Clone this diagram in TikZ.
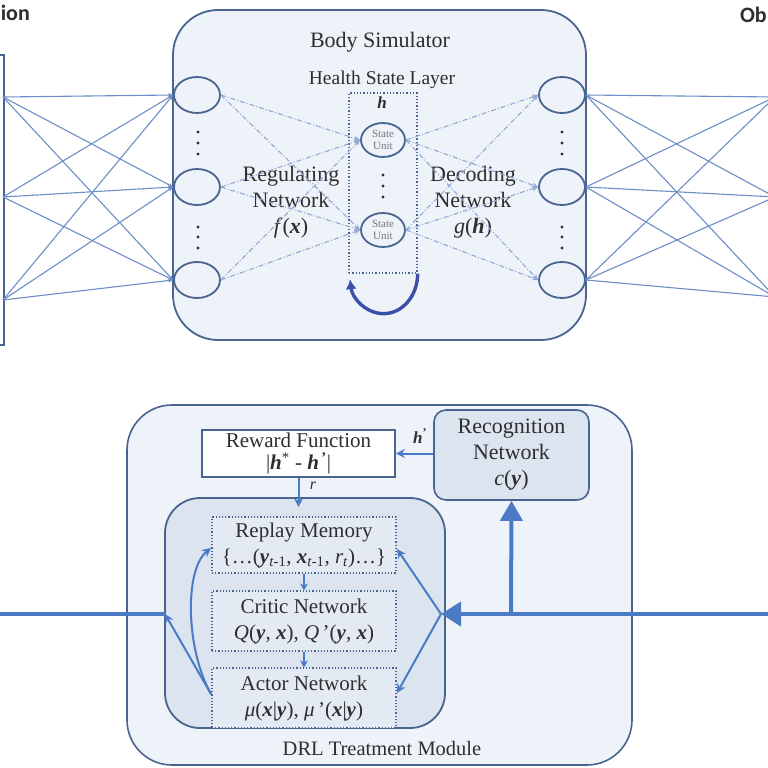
\documentclass[tikz,border=0pt]{standalone}
\usepackage{fontspec}
\setmainfont{Liberation Serif}
\newfontfamily\labelfont{Carlito}
\usetikzlibrary{shapes.geometric,arrows.meta}
\definecolor{frame}{HTML}{4A6490}
\definecolor{arrowblue}{HTML}{4A7BC4}
\definecolor{thinblue}{HTML}{6D8EC6}
\definecolor{dashblue}{HTML}{93ABD4}
\definecolor{bgfill}{HTML}{EEF2F9}
\definecolor{innerfill}{HTML}{DCE4EF}
\definecolor{dotfill}{HTML}{E4EAF3}
\definecolor{txt}{HTML}{2E2E2E}
\definecolor{lighttxt}{HTML}{777777}
\newcommand{\bv}[1]{\textbf{\textit{#1}}}
\begin{document}
\begin{tikzpicture}[x=1pt,y=-1pt,
  every node/.style={text=txt},
  bigtext/.style={font=\fontsize{22}{26}\selectfont, align=center},
  neuron/.style={ellipse, draw=frame, line width=1.8pt, fill=bgfill, minimum width=46pt, minimum height=36pt, inner sep=0pt},
  stateunit/.style={ellipse, draw=frame, line width=1.8pt, fill=bgfill, minimum width=44pt, minimum height=34pt, inner sep=0pt, font=\fontsize{11}{12}\selectfont, align=center, text=lighttxt},
  solidlink/.style={draw=thinblue, line width=1.1pt, -{Stealth[length=5pt,width=4pt]}},
  plainlink/.style={draw=thinblue, line width=1.1pt},
  dashlink/.style={draw=dashblue, line width=1.1pt, dash pattern=on 5pt off 2pt on 1pt off 2pt, -{Stealth[length=6pt,width=5pt]}},
  roundbox/.style={draw=frame, line width=1.8pt, rounded corners=#1, inner sep=0pt},
  dotbox/.style={draw=frame, line width=1.2pt, dotted, fill=dotfill, inner sep=0pt, font=\fontsize{21}{26}\selectfont, align=center},
  thinarrow/.style={draw=arrowblue, line width=2pt, -{Stealth[length=9pt,width=9pt]}},
  thickline/.style={draw=arrowblue, line width=4pt},
]
\useasboundingbox (0,0) rectangle (768,768);
\fill[white] (0,0) rectangle (768,768);

% ---------- top part ----------
\node[font=\labelfont\bfseries\fontsize{22}{22}\selectfont, anchor=east, inner sep=0pt] (actlabel) at (30,13) {ion};
\node[font=\labelfont\bfseries\fontsize{22}{22}\selectfont, anchor=east, inner sep=0pt] (obslabel) at (767,15) {Ob};

\node[draw=frame, line width=1.6pt, minimum width=40pt, minimum height=290pt, inner sep=0pt] (lbox) at (-16,200) {};
\coordinate (l1) at (3,97);
\coordinate (l2) at (3,197);
\coordinate (l3) at (3,300);
\coordinate (r1) at (775,97);
\coordinate (r2) at (775,197);
\coordinate (r3) at (775,297);

\node[roundbox=45pt, fill=bgfill, minimum width=413pt, minimum height=330pt] (body) at (379.5,175) {};
\node[bigtext] (bodytitle) at (380,42) {Body Simulator};
\node[font=\fontsize{19.5}{20}\selectfont] (hsl) at (382,80) {Health State Layer};

\node[neuron] (a1) at (197,95) {};
\node[neuron] (a2) at (197,187) {};
\node[neuron] (a3) at (197,280) {};
\node[neuron] (b1) at (562,95) {};
\node[neuron] (b2) at (562,187) {};
\node[neuron] (b3) at (562,280) {};

\node[draw=frame, line width=1.3pt, dotted, minimum width=68pt, minimum height=180pt, inner sep=0pt] (hlayer) at (383,183) {};
\node[font=\fontsize{17}{17}\selectfont] (hlab) at (382,103) {\bv{h}};
\node[stateunit] (s1) at (383,140) {State\\Unit};
\node[stateunit] (s2) at (383,230) {State\\Unit};

\draw[draw=frame!80!blue, line width=3.4pt, -{Latex[length=10pt,width=11pt]}] (hlayer.south east) arc[start angle=0, end angle=172, x radius=34, y radius=40];

% vertical dots
\foreach \yy in {132,143,154,227,237,248}{
  \fill[txt] (198,\yy) circle (1.7pt);
  \fill[txt] (562,\yy) circle (1.7pt);
}
\foreach \yy in {175,186,197}{ \fill[txt] (383,\yy) circle (1.7pt); }

\node[bigtext] (regnet) at (291,202) {Regulating\\Network\\\textit{f}(\bv{x})};
\node[bigtext] (decnet) at (473,202) {Decoding\\Network\\\textit{g}(\bv{h})};

% solid links left
\foreach \l in {l1,l2,l3}{
  \foreach \a in {a1,a2,a3}{
    \draw[solidlink] (\l) -- (\a.west);
  }
}
% solid links right
\foreach \b in {b1,b2,b3}{
  \foreach \r in {r1,r2,r3}{
    \draw[plainlink] (\b.east) -- (\r);
  }
}
% dashed links
\foreach \a in {a1,a2,a3}{
  \foreach \s in {s1,s2}{
    \draw[dashlink] (\a.east) -- (\s.west);
  }
}
\foreach \s in {s1,s2}{
  \foreach \b in {b1,b2,b3}{
    \draw[dashlink] (\s.east) -- (\b.west);
  }
}

% ---------- bottom part ----------
\node[roundbox=45pt, line width=1.6pt, fill=bgfill, minimum width=505pt, minimum height=360pt] (drl) at (379.5,585) {};
\node[font=\fontsize{20.5}{20}\selectfont] (drltitle) at (382,748) {DRL Treatment Module};

\node[draw=frame, line width=1.8pt, fill=white, minimum width=193pt, minimum height=47pt, inner sep=0pt, font=\fontsize{21}{22.5}\selectfont, align=center] (reward) at (298.5,453.5) {Reward Function\\|\bv{h}\textsuperscript{*} - \bv{h}\textsuperscript{\,\textbf{'}}|};
\node[roundbox=12pt, line width=1.6pt, fill=innerfill, minimum width=155pt, minimum height=90pt, bigtext] (recog) at (511.5,455) {Recognition\\Network\\\textit{c}(\bv{y})};

\node[roundbox=35pt, fill=innerfill, minimum width=280pt, minimum height=230pt] (inner) at (305,613) {};
\node[dotbox, minimum width=184pt, minimum height=56pt] (replay) at (304,545) {Replay Memory\\\{\ldots(\bv{y}\textsubscript{\textit{t}-1}, \bv{x}\textsubscript{\textit{t}-1}, \textit{r}\textsubscript{\textit{t}})\ldots\}};
\node[dotbox, minimum width=184pt, minimum height=60pt] (critic) at (304,621) {Critic Network\\\textit{Q}(\bv{y}, \bv{x}), \textit{Q}\,'(\bv{y}, \bv{x})};
\node[dotbox, minimum width=184pt, minimum height=60pt] (actor) at (304,698) {Actor Network\\\textit{μ}(\bv{x}|\bv{y}), \textit{μ}\,'(\bv{x}|\bv{y})};

% arrows
\draw[thinarrow] (recog.west |- reward.east) -- (reward.east);
\node[font=\fontsize{17}{17}\selectfont] (hprime) at (420,436) {\bv{h}\textsuperscript{\textbf{'}}};
\coordinate (rin) at (298.5,507);
\draw[thinarrow] (reward.south) -- (rin);
\node[font=\fontsize{16}{16}\selectfont] (rlab) at (313,486) {\textit{r}};

\draw[draw=arrowblue, line width=1.6pt, -{Stealth[length=7pt,width=8pt]}] (replay.south) -- (critic.north);
\draw[draw=arrowblue, line width=1.6pt, -{Stealth[length=7pt,width=8pt]}] (critic.south) -- (actor.north);

\coordinate (aw) at (211,694);
\coordinate (rw) at (211,548);
\draw[thinarrow] (aw) .. controls (186,650) and (184,570) .. (rw);
\coordinate (outpt) at (165,614);
\draw[thinarrow] (aw) -- (outpt);
\coordinate (leftend) at (-5,614);
\draw[thickline] (outpt) -- (leftend);

\coordinate (rightend) at (775,614);
\coordinate (junc) at (441,614);
\coordinate (recogfoot) at (511,614);
\draw[thickline, -{Triangle[length=20pt,width=24pt]}] (rightend) -- (junc);
\draw[thickline, -{Triangle[length=20pt,width=22pt]}] (recogfoot) -- (recog.south);
\coordinate (re) at (397,549);
\coordinate (ae) at (397,693);
\draw[thinarrow] (junc) -- (re);
\draw[thinarrow] (junc) -- (ae);

\end{tikzpicture}
\end{document}
